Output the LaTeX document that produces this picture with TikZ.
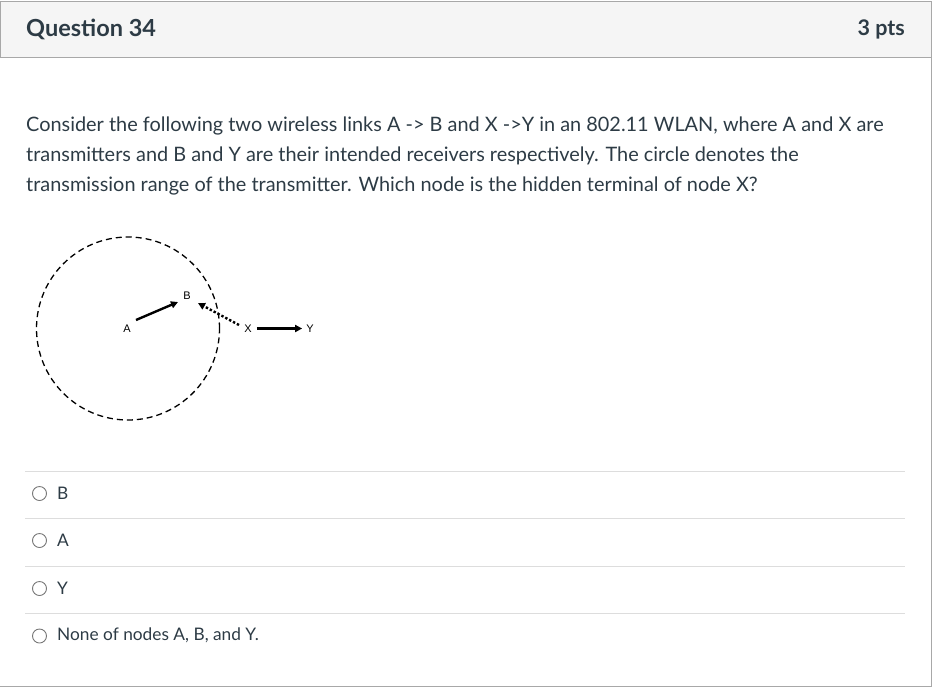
\documentclass[tikz,border=0pt]{standalone}
\usepackage{fontspec}
\setmainfont{Lato}
\newfontfamily\arialf{Liberation Sans}
\usetikzlibrary{arrows.meta}
\definecolor{txt}{HTML}{2D3B45}
\definecolor{hdr}{HTML}{F5F5F5}
\definecolor{frame}{HTML}{A8A8A8}
\definecolor{sep}{HTML}{DDDDDD}
\definecolor{radio}{HTML}{777777}
\tikzset{
  body/.style={anchor=west, inner sep=0pt, text=txt, font=\fontsize{19.9}{24}\selectfont},
  opt/.style={anchor=west, inner sep=0pt, text=txt, font=\fontsize{17.3}{21}\selectfont},
  lbl/.style={inner sep=1pt, font=\arialf\fontsize{11}{13}\selectfont},
  radiob/.style={circle, draw=radio, line width=0.9pt, minimum size=14pt, inner sep=0pt},
  sepline/.style={draw=sep, line width=1pt},
  link/.style={line width=2.4pt, -{Triangle[length=7pt,width=7pt]}},
  dlink/.style={line width=2.4pt, dotted, -{Triangle[length=7pt,width=7pt]}},
  rangecirc/.style={line width=1.3pt, dash pattern=on 6pt off 4pt}
}
\begin{document}
\begin{tikzpicture}[x=1pt,y=-1pt]
\useasboundingbox (0,0) rectangle (944,697);
% header
\fill[hdr] (0.5,1.5) rectangle (931,57.5);
\draw[frame, line width=1pt] (0.5,57.5) -- (0.5,1.5) -- (931,1.5) -- (931,686) -- (0,686);
\draw[frame, line width=1pt] (0.5,57.5) -- (931,57.5);
\node[anchor=west, inner sep=0pt, text=txt, font=\bfseries\fontsize{23.5}{28}\selectfont] (title) at (26,29) {Question 34};
\node[anchor=east, inner sep=0pt, text=txt, font=\bfseries\fontsize{21.5}{26}\selectfont] (pts) at (905,29) {3 pts};
% question
\node[body] (l1) at (26,126) {Consider the following two wireless links A -> B and X ->Y in an 802.11 WLAN, where A and X are};
\node[body] (l2) at (26,156) {transmitters and B and Y are their intended receivers respectively. The circle denotes the};
\node[body] (l3) at (26,186) {transmission range of the transmitter. Which node is the hidden terminal of node X?};
% diagram
\node[circle, rangecirc, draw, minimum size=183pt, inner sep=0pt] (rng) at (128,328.5) {};
\node[lbl] (A) at (127,329) {A};
\node[lbl] (B) at (187,296) {B};
\node[lbl] (X) at (248,328.5) {X};
\node[lbl] (Y) at (310,328.5) {Y};
\coordinate (as) at (136,320);
\coordinate (ae) at (178,302);
\draw[link] (as) -- (ae);
\coordinate (xs) at (239,325);
\coordinate (xe) at (198,303);
\draw[dlink] (xs) -- (xe);
\draw[link] (X.east) ++(4,0) coordinate (xys) -- ([xshift=-3pt]Y.west) coordinate (xye);
% options
\draw[sepline] (25,471.5) -- (905,471.5);
\draw[sepline] (25,518.5) -- (905,518.5);
\draw[sepline] (25,566.5) -- (905,566.5);
\draw[sepline] (25,613.5) -- (905,613.5);
\node[radiob] (r1) at (39.5,493.5) {};
\node[radiob] (r2) at (39.5,540.5) {};
\node[radiob] (r3) at (39.5,588.5) {};
\node[radiob] (r4) at (39.5,636) {};
\node[opt] (o1) at (57,493.5) {B};
\node[opt] (o2) at (57,540.5) {A};
\node[opt] (o3) at (57,588.5) {Y};
\node[opt] (o4) at (57,635.5) {None of nodes A, B, and Y.};
\end{tikzpicture}
\end{document}
